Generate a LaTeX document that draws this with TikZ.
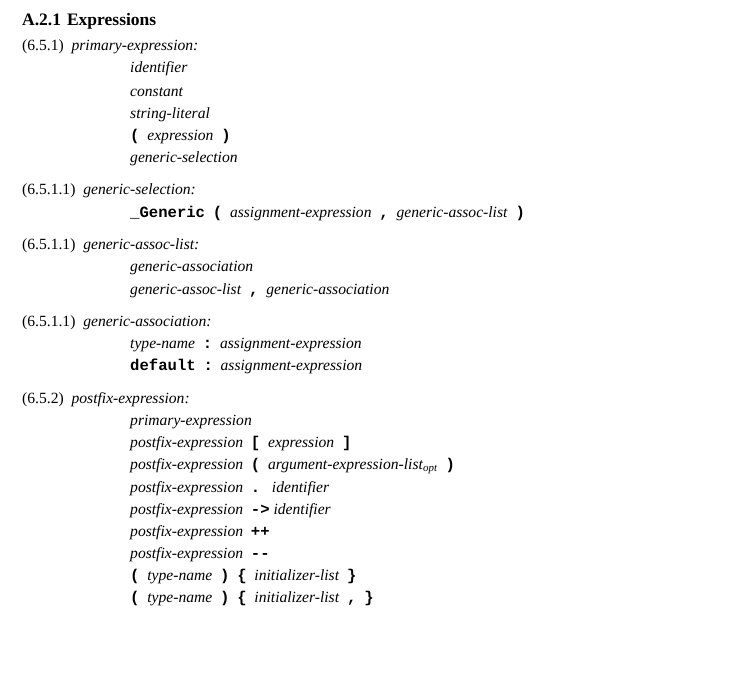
\documentclass[tikz,border=0pt]{standalone}
\usepackage{fontspec}
\setmainfont{Liberation Serif}
\setmonofont{Liberation Mono}
\newcommand{\kw}[1]{{\ttfamily\bfseries #1}}
\begin{document}
\begin{tikzpicture}[x=1pt,y=-1pt,
  txt/.style={anchor=base west,inner sep=0pt,font=\fontsize{15.6}{18}\selectfont},
  hd/.style={anchor=base west,inner sep=0pt,font=\fontsize{17.5}{20}\selectfont\bfseries}]
\useasboundingbox (0,0) rectangle (729,677);
\node[hd] (h) at (22,26) {A.2.1\hspace{6pt}Expressions};
% primary-expression
\node[txt] (l1) at (22,51) {(6.5.1)\ \ \textit{primary-expression:}};
\node[txt] (p1) at (130,73) {\textit{identifier}};
\node[txt] (p2) at (130,96) {\textit{constant}};
\node[txt] (p3) at (130,118) {\textit{string-literal}};
\node[txt] (p4) at (130,140) {\kw{(}\ \ \textit{expression}\ \ \kw{)}};
\node[txt] (p5) at (130,162) {\textit{generic-selection}};
% generic-selection
\node[txt] (l2) at (22,194) {(6.5.1.1)\ \ \textit{generic-selection:}};
\node[txt] (g1) at (130,217) {\kw{\_Generic}\ \ \kw{(}\ \ \textit{assignment-expression}\ \ \kw{,}\ \ \textit{generic-assoc-list}\ \ \kw{)}};
% generic-assoc-list
\node[txt] (l3) at (22,249) {(6.5.1.1)\ \ \textit{generic-assoc-list:}};
\node[txt] (a1) at (130,271) {\textit{generic-association}};
\node[txt] (a2) at (130,294) {\textit{generic-assoc-list}\ \ \kw{,}\ \ \textit{generic-association}};
% generic-association
\node[txt] (l4) at (22,326) {(6.5.1.1)\ \ \textit{generic-association:}};
\node[txt] (b1) at (130,348) {\textit{type-name}\ \ \kw{:}\ \ \textit{assignment-expression}};
\node[txt] (b2) at (130,370) {\kw{default}\ \ \kw{:}\ \ \textit{assignment-expression}};
% postfix-expression
\node[txt] (l5) at (22,403) {(6.5.2)\ \ \textit{postfix-expression:}};
\node[txt] (q1) at (130,425) {\textit{primary-expression}};
\node[txt] (q2) at (130,447) {\textit{postfix-expression}\ \ \kw{[}\ \ \textit{expression}\ \ \kw{]}};
\node[txt] (q3) at (130,469) {\textit{postfix-expression}\ \ \kw{(}\ \ \textit{argument-expression-list}\textsubscript{\textit{opt}}\ \ \kw{)}};
\node[txt] (q4) at (130,492) {\textit{postfix-expression}\ \ \kw{.}\ \ \ \textit{identifier}};
\node[txt] (q5) at (130,514) {\textit{postfix-expression}\ \ \kw{->}\ \textit{identifier}};
\node[txt] (q6) at (130,536) {\textit{postfix-expression}\ \ \kw{++}};
\node[txt] (q7) at (130,558) {\textit{postfix-expression}\ \ \kw{--}};
\node[txt] (q8) at (130,580) {\kw{(}\ \ \textit{type-name}\ \ \kw{)}\ \ \kw{\{}\ \ \textit{initializer-list}\ \ \kw{\}}};
\node[txt] (q9) at (130,602) {\kw{(}\ \ \textit{type-name}\ \ \kw{)}\ \ \kw{\{}\ \ \textit{initializer-list}\ \ \kw{,}\ \ \kw{\}}};
\end{tikzpicture}
\end{document}
